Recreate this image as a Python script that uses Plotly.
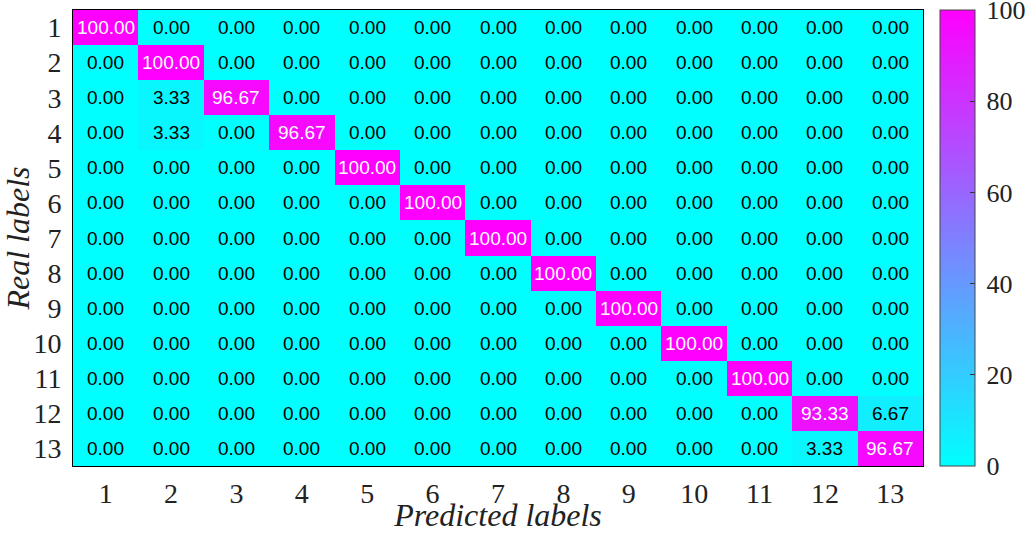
import plotly.graph_objects as go

labels = [str(i) for i in range(1, 14)]

# confusion matrix (%), rows = real labels, columns = predicted labels
diag_values = [100.00, 100.00, 96.67, 96.67, 100.00, 100.00, 100.00,
               100.00, 100.00, 100.00, 100.00, 93.33, 96.67]
off_diag = {(3, 2): 3.33, (4, 2): 3.33, (12, 13): 6.67, (13, 12): 3.33}
cbar_ticks = [0, 20, 40, 60, 80, 100]

z = []
for r in range(1, 14):
    row = []
    for c in range(1, 14):
        if r == c:
            row.append(diag_values[r - 1])
        else:
            row.append(off_diag.get((r, c), 0.0))
    z.append(row)

serif = "Liberation Serif"

fig = go.Figure()
fig.add_trace(go.Heatmap(
    z=z, x=labels, y=labels,
    colorscale=[[0, "rgb(0,255,255)"], [1, "rgb(255,0,255)"]],
    zmin=0, zmax=100,
    hoverinfo="skip",
    colorbar=dict(
        x=1.02, xanchor="left", xpad=0, y=0.5, yanchor="middle",
        len=1.0, lenmode="fraction", ypad=0,
        thickness=35, thicknessmode="pixels",
        outlinecolor="#444", outlinewidth=1,
        tickmode="array", tickvals=cbar_ticks,
        ticktext=["\u2009" + str(t) for t in cbar_ticks],
        ticklabeloverflow="allow",
        ticks="inside", ticklen=5, tickcolor="#333",
        tickfont=dict(family=serif, size=26, color="#222"),
    ),
))

# cell values, white on the high cells, black on the low ones
for i, row in enumerate(z):
    for j, v in enumerate(row):
        fig.add_annotation(
            x=j, y=i, text=f"{v:.2f}", showarrow=False,
            font=dict(family="Liberation Sans", size=19,
                      color="white" if v > 50 else "black"),
        )

fig.update_layout(
    width=1025, height=533,
    margin=dict(l=73, r=102, t=10, b=67, autoexpand=False),
    paper_bgcolor="white", plot_bgcolor="white",
    xaxis=dict(
        title=dict(text="<i>Predicted labels</i>", font=dict(family=serif, size=32, color="#222"), standoff=0),
        tickmode="array", tickvals=labels, ticktext=labels,
        tickfont=dict(family=serif, size=28, color="#222"),
        ticks="outside", ticklen=2, tickcolor="rgba(0,0,0,0)",
        range=[-0.5, 12.5],
        showline=True, linecolor="black", linewidth=1, mirror=True,
        showgrid=False, zeroline=False, automargin=False,
    ),
    yaxis=dict(
        title=dict(text="<i>Real labels</i>", font=dict(family=serif, size=32, color="#222"), standoff=2),
        tickmode="array", tickvals=labels, ticktext=labels,
        tickfont=dict(family=serif, size=28, color="#222"),
        ticks="outside", ticklen=5, tickcolor="rgba(0,0,0,0)",
        range=[12.5, -0.5],
        showline=True, linecolor="black", linewidth=1, mirror=True,
        showgrid=False, zeroline=False, automargin=False,
    ),
)

fig.write_html("out.html", config={"displayModeBar": False},
               post_script="document.body.style.margin='0';")
